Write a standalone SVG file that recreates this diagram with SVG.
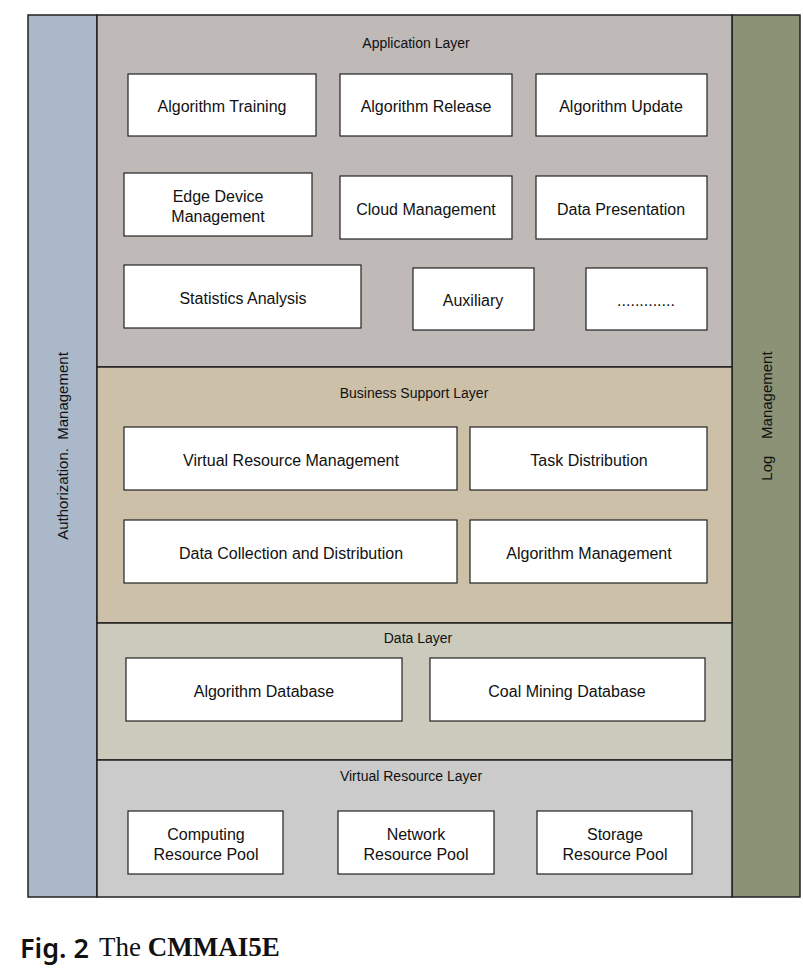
<svg xmlns="http://www.w3.org/2000/svg" width="803" height="977" viewBox="0 0 803 977">
<style>
.l{stroke:#222;stroke-width:1.5}
.b{fill:#fff;stroke:#222;stroke-width:1.2}
text{font-family:"Liberation Sans",Arial,sans-serif;font-size:16px;fill:#111;text-anchor:middle;dominant-baseline:central}
.t{font-size:14px}
</style>
<rect width="803" height="977" fill="#fff"/>
<g id="auth"><rect class="l" x="28" y="15" width="69" height="882" fill="#abb8c9"/>
<text class="t" xml:space="preserve" transform="translate(62,446) rotate(-90)" style="font-size:15px">Authorization.  Management</text></g>
<g id="log"><rect class="l" x="732" y="15" width="68" height="882" fill="#8b9275"/>
<text class="t" xml:space="preserve" transform="translate(766,416) rotate(-90)" style="font-size:15px">Log    Management</text></g>
<g id="app"><rect class="l" x="97" y="15" width="635" height="352" fill="#bfb9b8"/>
<text class="t" x="416" y="43">Application Layer</text></g>
<g id="bus"><rect class="l" x="97" y="367" width="635" height="256" fill="#ccc0a9"/>
<text class="t" x="414" y="393">Business Support Layer</text></g>
<g id="data"><rect class="l" x="97" y="623" width="635" height="137" fill="#cacbbc"/>
<text class="t" x="418" y="638">Data Layer</text></g>
<g id="virt"><rect class="l" x="97" y="760" width="635" height="137" fill="#cbcbcb"/>
<text class="t" x="411" y="776">Virtual Resource Layer</text></g>
<g id="n1"><rect class="b" x="128" y="74" width="188" height="62"/><text x="222" y="106">Algorithm Training</text></g>
<g id="n2"><rect class="b" x="340" y="74" width="172" height="62"/><text x="426" y="106">Algorithm Release</text></g>
<g id="n3"><rect class="b" x="536" y="74" width="171" height="62"/><text x="621" y="106">Algorithm Update</text></g>
<g id="n4"><rect class="b" x="124" y="173" width="188" height="63"/><text x="218" y="196">Edge Device</text><text x="218" y="216">Management</text></g>
<g id="n5"><rect class="b" x="340" y="176" width="172" height="63"/><text x="426" y="209">Cloud Management</text></g>
<g id="n6"><rect class="b" x="536" y="176" width="171" height="63"/><text x="621" y="209">Data Presentation</text></g>
<g id="n7"><rect class="b" x="124" y="265" width="237" height="63"/><text x="243" y="298">Statistics Analysis</text></g>
<g id="n8"><rect class="b" x="413" y="268" width="121" height="62"/><text x="473" y="300">Auxiliary</text></g>
<g id="n9"><rect class="b" x="586" y="268" width="121" height="62"/><text x="646" y="300">.............</text></g>
<g id="n10"><rect class="b" x="124" y="427" width="333" height="63"/><text x="291" y="460">Virtual Resource Management</text></g>
<g id="n11"><rect class="b" x="470" y="427" width="237" height="63"/><text x="589" y="460">Task Distribution</text></g>
<g id="n12"><rect class="b" x="124" y="520" width="333" height="63"/><text x="291" y="553">Data Collection and Distribution</text></g>
<g id="n13"><rect class="b" x="470" y="520" width="237" height="63"/><text x="589" y="553">Algorithm Management</text></g>
<g id="n14"><rect class="b" x="126" y="658" width="276" height="63"/><text x="264" y="691">Algorithm Database</text></g>
<g id="n15"><rect class="b" x="430" y="658" width="275" height="63"/><text x="567" y="691">Coal Mining Database</text></g>
<g id="n16"><rect class="b" x="128" y="811" width="155" height="63"/><text x="206" y="834">Computing</text><text x="206" y="854">Resource Pool</text></g>
<g id="n17"><rect class="b" x="338" y="811" width="156" height="63"/><text x="416" y="834">Network</text><text x="416" y="854">Resource Pool</text></g>
<g id="n18"><rect class="b" x="537" y="811" width="155" height="63"/><text x="615" y="834">Storage</text><text x="615" y="854">Resource Pool</text></g>
<g id="connectors"></g>
<text x="20" y="947" style="text-anchor:start;font-size:27px"><tspan style="font-family:'Noto Sans',sans-serif;font-weight:600">Fig. 2</tspan><tspan dx="10" style="font-family:'Liberation Serif',serif">The </tspan><tspan style="font-family:'Liberation Serif',serif;font-weight:bold">CMMAI5E</tspan></text>
</svg>
